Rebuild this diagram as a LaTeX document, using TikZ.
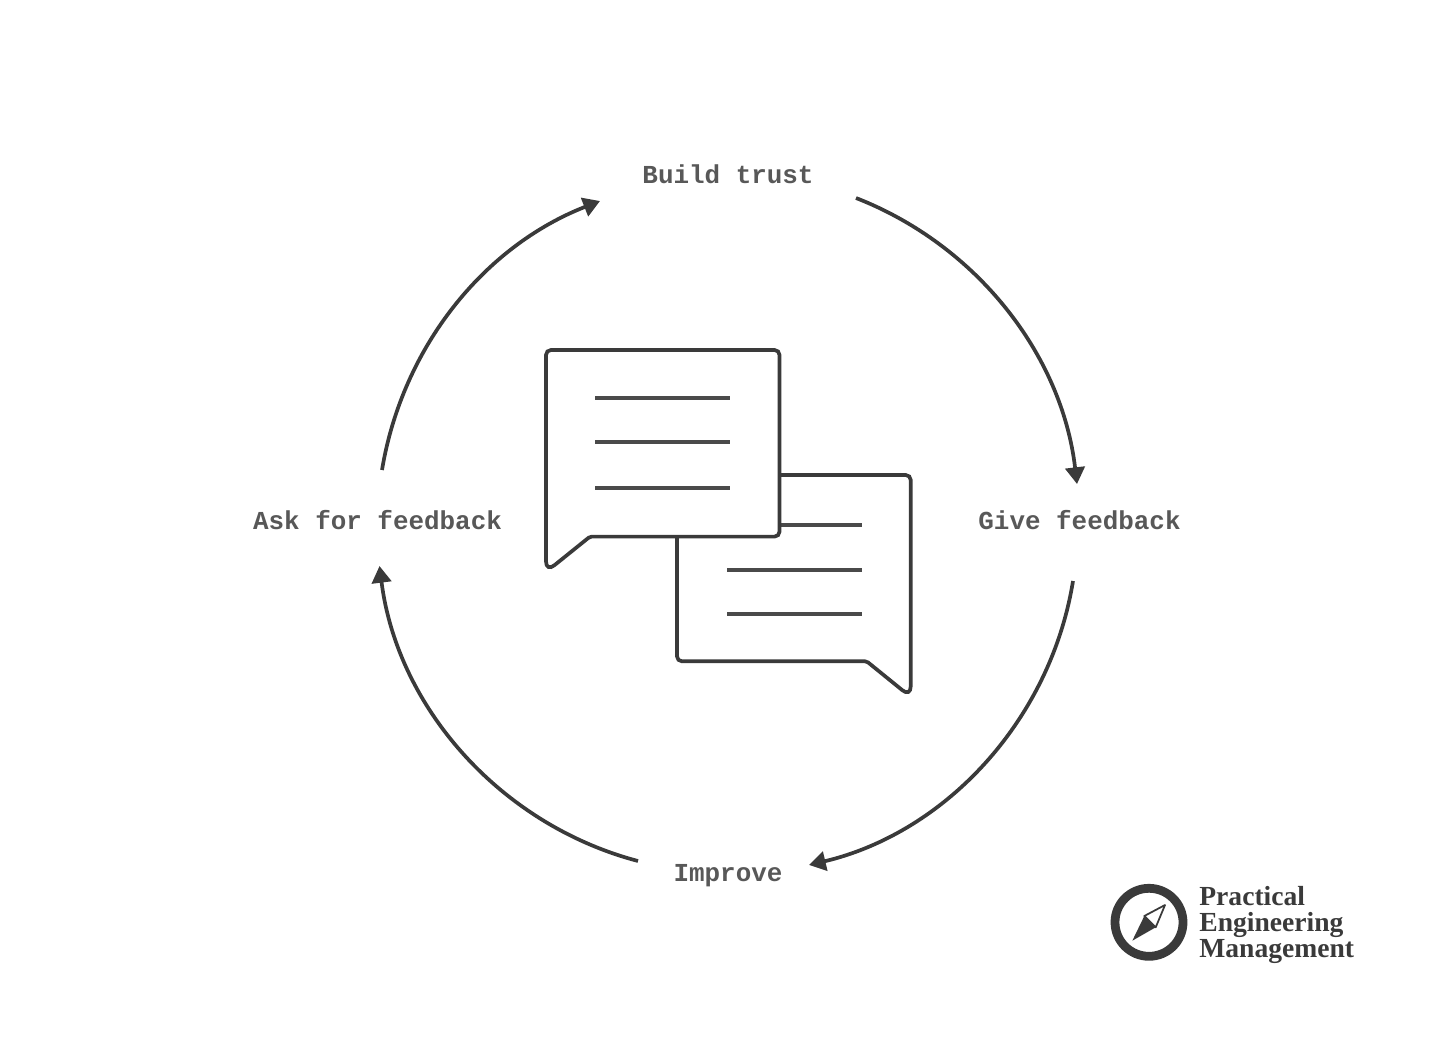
\documentclass[tikz,border=0pt]{standalone}
\usepackage{fontspec}
\setmainfont{Liberation Serif}
\setmonofont{Liberation Mono}
\usetikzlibrary{calc}
\usetikzlibrary{arrows.meta}
\definecolor{inkdark}{HTML}{3A3A3A}
\definecolor{inkline}{HTML}{4A4A4A}
\definecolor{inktext}{HTML}{585858}
\tikzset{
    steplabel/.style={font=\ttfamily\bfseries\fontsize{14.75}{16}\selectfont,text=inktext,inner sep=0pt,anchor=base},
    looparc/.style={draw=inkdark,line width=2.1pt,-{Triangle[length=9.5pt,width=11pt]}},
    bubble/.style={draw=inkdark,fill=white,line width=2.1pt,rounded corners=2.8pt},
    textline/.style={draw=inkline,line width=2.2pt},
    logotext/.style={font=\bfseries\fontsize{15.7}{16}\selectfont,text=inkdark,inner sep=0pt,anchor=base west}
}
\begin{document}
\begin{tikzpicture}[x=0.02cm,y=-0.02cm]
        \useasboundingbox (0,0) rectangle (1456,1048);
        % labels
        \node[steplabel] (trust) at (728,183.3) {Build trust};
        \node[steplabel] (give) at (1079.5,529.3) {Give feedback};
        \node[steplabel] (improve) at (728,881.7) {Improve};
        \node[steplabel] (ask) at (377.5,529.3) {Ask for feedback};
        % arc ends
        \coordinate (trustout) at (856,198);
        \coordinate (givein) at (1077,484);
        \coordinate (giveout) at (1073,581);
        \coordinate (improvein) at (809,865);
        \coordinate (improveout) at (638,861);
        \coordinate (askin) at (379.5,566);
        \coordinate (askout) at (382,470);
        \coordinate (trustin) at (600,201);
        \draw[looparc] (trustout) to[bend left=31,looseness=.92] (givein);
        \draw[looparc] (giveout) to[bend left=33.7,looseness=.93] (improvein);
        \draw[looparc] (improveout) to[bend left=34,looseness=.93] (askin);
        \draw[looparc] (askout) to[bend left=29.6,looseness=.92] (trustin);
        % back bubble
        \draw[bubble] (677,475) -- (910.7,475) [rounded corners=6pt] -- (910.7,697) [rounded corners=1pt] -- (866.7,661.3) [rounded corners=2.8pt] -- (677,661.3) -- cycle;
        \draw[textline] (727,524.7) -- (862,524.7);
        \draw[textline] (727,570) -- (862,570);
        \draw[textline] (727,613.7) -- (862,613.7);
        % front bubble
        \draw[bubble] (546,350) -- (779.5,350) -- (779.5,536.6) [rounded corners=1pt] -- (590,536.6) [rounded corners=6pt] -- (546,572) [rounded corners=2.8pt] -- cycle;
        \draw[textline] (595,397.7) -- (730,397.7);
        \draw[textline] (595,441.7) -- (730,441.7);
        \draw[textline] (595,487.7) -- (730,487.7);
        % logo
        \draw[draw=inkdark,line width=5pt] (1149,922.3) circle (34);
        \fill[inkdark] (1132.3,940.7) -- (1144.3,916) -- (1155.7,927.3) -- cycle;
        \draw[draw=inkdark,line width=1pt,line join=round] (1165,905) -- (1144.3,916) -- (1155.7,927.3) -- cycle;
        \node[logotext] (practical) at (1199,905.5) {Practical};
        \node[logotext] (engineering) at (1199,931.5) {Engineering};
        \node[logotext] (management) at (1199,957.5) {Management};
    \end{tikzpicture}
\end{document}
